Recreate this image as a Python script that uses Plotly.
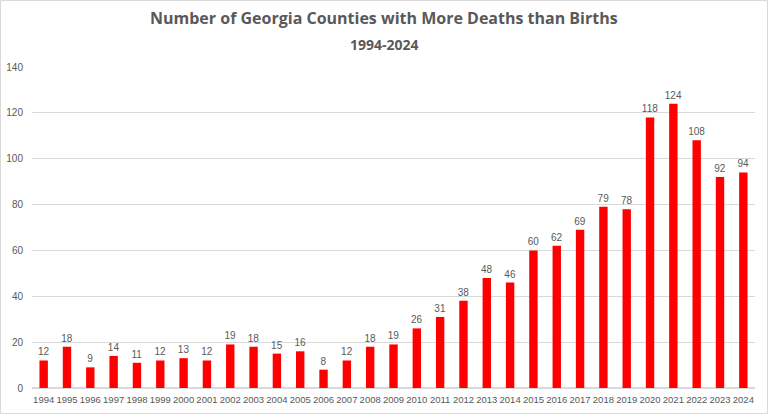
import plotly.graph_objects as go

years = [str(y) for y in range(1994, 2025)]
counts = [12, 18, 9, 14, 11, 12, 13, 12, 19, 18, 15, 16, 8, 12, 18, 19, 26, 31, 38, 48,
          46, 60, 62, 69, 79, 78, 118, 124, 108, 92, 94]
y_ticks = [0, 20, 40, 60, 80, 100, 120, 140]

W, H = 768, 414
L, R, T, B = 32, 13, 67, 26
pw, ph = W - L - R, H - T - B

fig = go.Figure(go.Bar(
    x=years, y=counts,
    marker=dict(color="#ff0000", line=dict(width=0)),
    text=counts, textposition="outside", cliponaxis=False, constraintext="none",
    textfont=dict(family="Liberation Sans, Arial", size=10, color="#595959"),
    width=0.36,
))

fig.update_layout(
    width=W, height=H,
    margin=dict(l=L, r=R, t=T, b=B),
    paper_bgcolor="white", plot_bgcolor="white",
    showlegend=False,
    xaxis=dict(type="category", tickangle=0, automargin=False,
               tickfont=dict(family="Liberation Sans, Arial", size=9.5, color="#595959"),
               showgrid=False, showline=True, linecolor="#d9d9d9", ticks="outside",
               tickcolor="white", ticklen=3),
    yaxis=dict(range=[0, 140], tickvals=y_ticks, showgrid=True, gridcolor="#d9d9d9",
               zeroline=True, zerolinecolor="#d9d9d9", automargin=False,
               tickfont=dict(family="Liberation Sans, Arial", size=10, color="#595959"),
               ticks="outside", tickcolor="white", ticklen=6),
    annotations=[
        dict(text="<b>Number of Georgia Counties with More Deaths than Births</b>", xref="paper", yref="paper",
             x=(W / 2 - L) / pw, y=(H - B - 18) / ph, xanchor="center", yanchor="middle",
             showarrow=False, font=dict(family="Open Sans", size=16, color="#595959")),
        dict(text="<b>1994-2024</b>", xref="paper", yref="paper",
             x=(W / 2 - L) / pw, y=(H - B - 44) / ph, xanchor="center", yanchor="middle",
             showarrow=False, font=dict(family="Open Sans", size=14, color="#595959")),
    ],
    shapes=[dict(type="rect", xref="paper", yref="paper",
                 x0=(0.5 - L) / pw, x1=(W - 0.5 - L) / pw,
                 y0=(H - B - (H - 0.5)) / ph, y1=(H - B - 0.5) / ph,
                 line=dict(color="#d9d9d9", width=1), layer="below")],
)

fig.write_html("out.html")
